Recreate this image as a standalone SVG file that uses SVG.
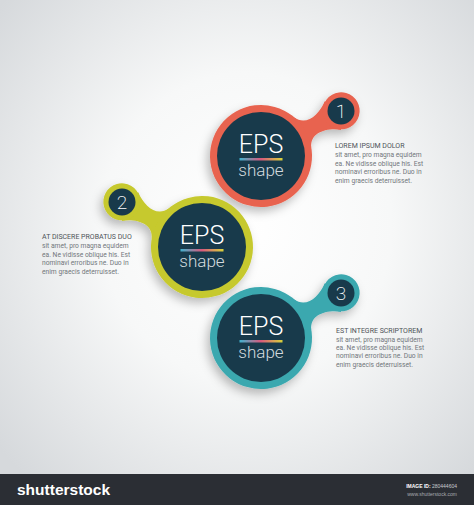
<svg xmlns="http://www.w3.org/2000/svg" width="474" height="505" viewBox="0 0 474 505">
  <style>
    .dark { fill: #183a4b; }
    .eps { font-family: Roboto, "Liberation Sans", sans-serif; font-weight: 300; font-size: 25px; fill: #ffffff; text-anchor: middle; }
    .shape { font-family: Roboto, "Liberation Sans", sans-serif; font-weight: 300; font-size: 17px; fill: #d3dadf; text-anchor: middle; }
    .num { font-family: Roboto, "Liberation Sans", sans-serif; font-weight: 200; font-size: 19px; fill: #ffffff; text-anchor: middle; }
    .hd { font-family: Roboto, "Liberation Sans", sans-serif; font-weight: 400; font-size: 7px; fill: #4e5358; }
    .bd { font-family: Roboto, "Liberation Sans", sans-serif; font-size: 6.7px; fill: #72777c; }
    .red { fill: #e8634f; }
    .yel { fill: #c6c92d; }
    .teal { fill: #3ba8af; }
  </style>
  <defs>
    <radialGradient id="bg" cx="0.52" cy="0.45" r="0.68">
      <stop offset="0" stop-color="#ffffff"/>
      <stop offset="0.45" stop-color="#f7f8f8"/>
      <stop offset="1" stop-color="#d6d9dc"/>
    </radialGradient>
    <linearGradient id="bar" x1="0" y1="0" x2="1" y2="0">
      <stop offset="0" stop-color="#3fb2cf"/>
      <stop offset="0.5" stop-color="#d95a7c"/>
      <stop offset="1" stop-color="#d8d33a"/>
    </linearGradient>
    <filter id="sh" x="-40%" y="-40%" width="180%" height="180%">
      <feDropShadow dx="-3" dy="5" stdDeviation="5" flood-color="#000" flood-opacity="0.25"/>
    </filter>
    <path id="blob" d="M47.9,-17.4 C54,-3.5 71,-7.5 82.5,-16.5 L92,0 L82.5,16.5 C71,7.5 54,3.5 47.9,17.4 Z"/>
  </defs>

  <rect width="474" height="505" fill="url(#bg)"/>

  <g id="connectors"/>

  <g id="node1" transform="translate(261,156)">
    <g filter="url(#sh)">
      <g class="red" transform="rotate(-29.4)">
        <use href="#blob"/>
        <circle r="51"/>
        <circle cx="92" r="18.5"/>
      </g>
    </g>
    <circle class="dark" r="44"/>
    <circle class="dark" cx="80" cy="-45" r="13.5"/>
    <text class="eps" y="-3">EPS</text>
    <rect x="-21.5" y="2" width="43" height="2.5" fill="url(#bar)"/>
    <text class="shape" y="20">shape</text>
    <text class="num" x="80" y="-38.3">1</text>
  </g>

  <g id="node2" transform="translate(202,247)">
    <g filter="url(#sh)">
      <g class="yel" transform="rotate(-150.6)">
        <use href="#blob"/>
        <circle r="51"/>
        <circle cx="92" r="18.5"/>
      </g>
    </g>
    <circle class="dark" r="44"/>
    <circle class="dark" cx="-80" cy="-45" r="13.5"/>
    <text class="eps" y="-3">EPS</text>
    <rect x="-21.5" y="2" width="43" height="2.5" fill="url(#bar)"/>
    <text class="shape" y="20">shape</text>
    <text class="num" x="-80" y="-38.3">2</text>
  </g>

  <g id="node3" transform="translate(261,338)">
    <g filter="url(#sh)">
      <g class="teal" transform="rotate(-29.4)">
        <use href="#blob"/>
        <circle r="51"/>
        <circle cx="92" r="18.5"/>
      </g>
    </g>
    <circle class="dark" r="44"/>
    <circle class="dark" cx="80" cy="-45" r="13.5"/>
    <text class="eps" y="-3">EPS</text>
    <rect x="-21.5" y="2" width="43" height="2.5" fill="url(#bar)"/>
    <text class="shape" y="20">shape</text>
    <text class="num" x="80" y="-38.3">3</text>
  </g>

  <g id="text1">
    <text class="hd" x="335" y="148">LOREM IPSUM DOLOR</text>
    <text class="bd" x="335" y="157.3">sit amet, pro magna equidem</text>
    <text class="bd" x="335" y="165.7">ea. Ne vidisse oblique his. Est</text>
    <text class="bd" x="335" y="174.1">nominavi erroribus ne. Duo in</text>
    <text class="bd" x="335" y="182.5">enim graecis deterruisset.</text>
  </g>

  <g id="text2">
    <text class="hd" x="42" y="239">AT DISCERE PROBATUS DUO</text>
    <text class="bd" x="42" y="248">sit amet, pro magna equidem</text>
    <text class="bd" x="42" y="256.5">ea. Ne vidisse oblique his. Est</text>
    <text class="bd" x="42" y="265">nominavi erroribus ne. Duo in</text>
    <text class="bd" x="42" y="273.5">enim graecis deterruisset.</text>
  </g>

  <g id="text3">
    <text class="hd" x="336" y="333">EST INTEGRE SCRIPTOREM</text>
    <text class="bd" x="336" y="341.8">sit amet, pro magna equidem</text>
    <text class="bd" x="336" y="350.1">ea. Ne vidisse oblique his. Est</text>
    <text class="bd" x="336" y="358.4">nominavi erroribus ne. Duo in</text>
    <text class="bd" x="336" y="366.7">enim graecis deterruisset.</text>
  </g>

  <g id="footer">
    <rect x="0" y="474" width="474" height="31" fill="#2b2e34"/>
    <text x="17" y="495" font-family="'Liberation Sans', Arial, sans-serif" font-weight="700" font-size="15.5" fill="#ffffff">shutterstock</text>
    <text x="457" y="487.5" text-anchor="end" font-family="'Liberation Sans', Arial, sans-serif" font-size="5" fill="#c8cbd0"><tspan font-weight="700" fill="#ffffff">IMAGE ID:</tspan> 280444604</text>
    <text x="457" y="495.5" text-anchor="end" font-family="'Liberation Sans', Arial, sans-serif" font-size="5" fill="#a8abb0">www.shutterstock.com</text>
  </g>
</svg>
